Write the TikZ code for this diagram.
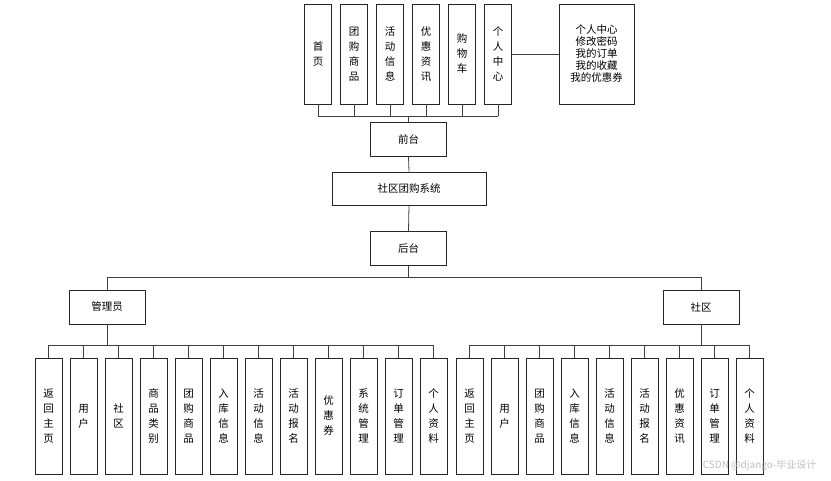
\documentclass[tikz,border=0pt]{standalone}
\usepackage{fontspec}
\setmainfont{Noto Sans CJK SC}
\begin{document}
\begin{tikzpicture}[x=1pt,y=-1pt,
  bx/.style={draw=black!85,line width=0.8pt,fill=white,inner sep=0pt,font=\fontsize{10.5}{15}\selectfont,align=center},
  vb/.style={bx,minimum width=27pt,minimum height=116pt},
  tb/.style={bx,minimum width=27pt,minimum height=100pt},
  hb/.style={bx,minimum width=76pt,minimum height=34pt},
  ln/.style={draw=black!75,line width=0.8pt}]
\useasboundingbox (0,0) rectangle (831,481);
% top
\foreach \t [count=\i] in {{首\\页},{团\\购\\商\\品},{活\\动\\信\\息},{优\\惠\\资\\讯},{购\\物\\车},{个\\人\\中\\心}}{
  \node[tb] (t\i) at ({318+36*(\i-1)},54) {\t};
  \draw[ln] (t\i.south) -- ++(0,12);
}
\node[bx,minimum width=75pt,minimum height=100pt] (pc) at (596.5,54) {个人中心\\[-3pt]修改密码\\[-3pt]我的订单\\[-3pt]我的收藏\\[-3pt]我的优惠券};
\draw[ln] (t6.east) -- (pc.west);
\coordinate (tb1) at (318,116); \coordinate (tb2) at (498,116);
\draw[ln] (tb1) -- (tb2);
\node[hb] (qt) at (408.5,139) {前台};
\draw[ln] (408.5,116) -- (qt.north);
\node[bx,minimum width=154pt,minimum height=33pt] (sys) at (409,188.5) {社区团购系统};
\draw[ln] (qt.south) -- (sys.north);
\node[hb] (ht) at (408.5,248.5) {后台};
\draw[ln] (sys.south) -- (ht.north);
\draw[ln] (ht.south) -- (408.5,277);
\draw[ln] (107,277) -- (701,277);
\node[hb] (gly) at (107,307) {管理员};
\node[hb] (sq) at (701,307) {社区};
\draw[ln] (107,277) -- (gly.north);
\draw[ln] (701,277) -- (sq.north);
% admin children
\draw[ln] (gly.south) -- (107,345);
\draw[ln] (48.5,345) -- (433.5,345);
\foreach \t [count=\i] in {{返\\回\\主\\页},{用\\户},{社\\区},{商\\品\\类\\别},{团\\购\\商\\品},{入\\库\\信\\息},{活\\动\\信\\息},{活\\动\\报\\名},{优\\惠\\券},{系\\统\\管\\理},{订\\单\\管\\理},{个\\人\\资\\料}}{
  \node[vb] (a\i) at ({48.5+35*(\i-1)},416) {\t};
  \draw[ln] (a\i.north) -- ++(0,-13);
}
% community children
\draw[ln] (sq.south) -- (701,345);
\draw[ln] (469.5,345) -- (749.5,345);
\foreach \t [count=\i] in {{返\\回\\主\\页},{用\\户},{团\\购\\商\\品},{入\\库\\信\\息},{活\\动\\信\\息},{活\\动\\报\\名},{优\\惠\\资\\讯},{订\\单\\管\\理},{个\\人\\资\\料}}{
  \node[vb] (c\i) at ({469.5+35*(\i-1)},416) {\t};
  \draw[ln] (c\i.north) -- ++(0,-13);
}
\node[text=black!25,font=\fontsize{10}{12}\selectfont,anchor=east] (wm) at (820,466) {CSDN @django-毕业设计};
\end{tikzpicture}
\end{document}
